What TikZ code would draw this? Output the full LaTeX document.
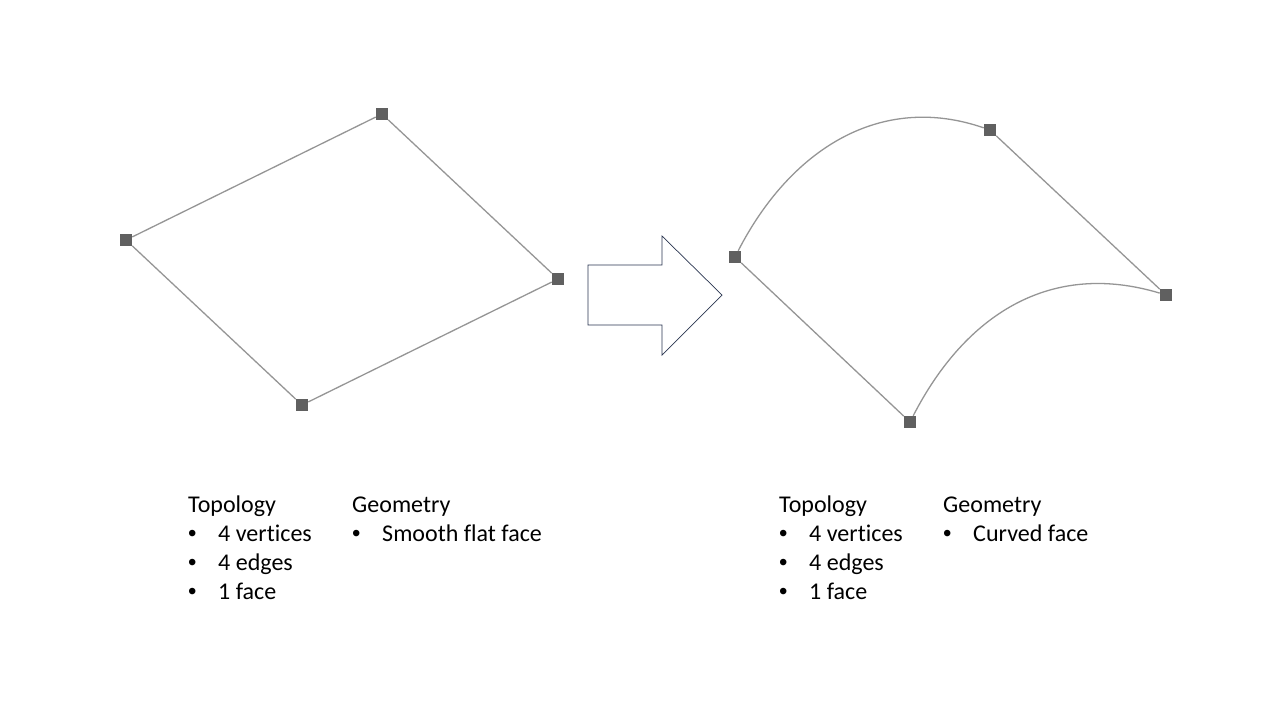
\documentclass[tikz,border=0pt]{standalone}
\usepackage{fontspec}
\setmainfont[Ligatures=NoCommon]{Carlito}
\newfontfamily\bulletfont{Liberation Sans}
\usepackage{xcolor}
\usetikzlibrary{positioning}
\definecolor{vertgray}{HTML}{606060}
\definecolor{edgegray}{HTML}{959595}
\definecolor{arrowblue}{HTML}{2A3550}
\newcommand{\itemdot}{\makebox[0.9cm][l]{\bulletfont •}}

\begin{document}
\begin{tikzpicture}[x=0.03cm, y=-0.03cm,
    vertex/.style={rectangle, fill=vertgray, minimum size=0.36cm, inner sep=0pt},
    edge/.style={draw=edgegray, line width=1.1pt},
    label/.style={anchor=base west, inner sep=0pt, font=\fontsize{20.5}{24}\selectfont}]
            \useasboundingbox[fill=white] (0,0) rectangle (1280,720);
            % flat face
            \node[vertex] (a1) at (126,240) {};
            \node[vertex] (a2) at (382,114) {};
            \node[vertex] (a3) at (558,279) {};
            \node[vertex] (a4) at (302,405) {};
            \draw[edge] (a1) -- (a2) -- (a3) -- (a4) -- (a1);
            % curved face
            \node[vertex] (b1) at (735,257) {};
            \node[vertex] (b2) at (990,130) {};
            \node[vertex] (b3) at (1166,295) {};
            \node[vertex] (b4) at (910,422) {};
            \draw[edge] (b1) .. controls (790,150) and (880,92) .. (b2);
            \draw[edge] (b2) -- (b3);
            \draw[edge] (b4) .. controls (965,315) and (1050,260) .. (b3);
            \draw[edge] (b1) -- (b4);
            % block arrow
            \draw[arrowblue, line width=0.6pt] (588,265) -- (662,265) -- (662,236) -- (722,295)
                -- (662,355) -- (662,325) -- (588,325) -- cycle;
            % texts, left
            \node[label] (topoA) at (188,512) {Topology};
            \node[label] (topoA1) at (188,541) {\itemdot 4 vertices};
            \node[label] (topoA2) at (188,570) {\itemdot 4 edges};
            \node[label] (topoA3) at (188,599) {\itemdot 1 face};
            \node[label] (geoA) at (352,512) {Geometry};
            \node[label] (geoA1) at (352,541) {\itemdot Smooth flat face};
            % texts, right
            \node[label] (topoB) at (779,512) {Topology};
            \node[label] (topoB1) at (779,541) {\itemdot 4 vertices};
            \node[label] (topoB2) at (779,570) {\itemdot 4 edges};
            \node[label] (topoB3) at (779,599) {\itemdot 1 face};
            \node[label] (geoB) at (943,512) {Geometry};
            \node[label] (geoB1) at (943,541) {\itemdot Curved face};
        \end{tikzpicture}
\end{document}
